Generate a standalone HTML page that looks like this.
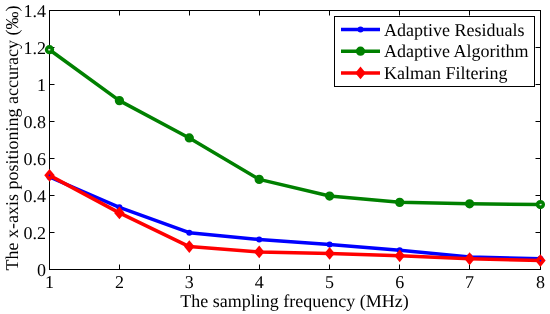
<!DOCTYPE html>
<html><head><meta charset="utf-8"><style>
html,body{margin:0;padding:0;background:#fff;}
svg{display:block;}
text{text-rendering:geometricPrecision;}
</style></head><body>
<svg width="550" height="314" viewBox="0 0 550 314">
<rect width="550" height="314" fill="#fff"/>
<path d="M49.5,269.5v-5M49.5,10.5v5M119.5,269.5v-5M119.5,10.5v5M189.5,269.5v-5M189.5,10.5v5M259.5,269.5v-5M259.5,10.5v5M329.5,269.5v-5M329.5,10.5v5M399.5,269.5v-5M399.5,10.5v5M469.5,269.5v-5M469.5,10.5v5M540.5,269.5v-5M540.5,10.5v5M49.5,269.5h5M540.5,269.5h-5M49.5,232.5h5M540.5,232.5h-5M49.5,195.5h5M540.5,195.5h-5M49.5,158.5h5M540.5,158.5h-5M49.5,121.5h5M540.5,121.5h-5M49.5,84.5h5M540.5,84.5h-5M49.5,47.5h5M540.5,47.5h-5M49.5,10.5h5M540.5,10.5h-5" stroke="#000" stroke-width="1" fill="none"/>
<rect x="49.5" y="10.5" width="491.0" height="259.0" fill="none" stroke="#000" stroke-width="1"/>
<polyline points="49.50,177.00 119.40,207.34 189.30,232.69 259.20,239.53 329.60,244.53 399.70,250.26 469.60,256.92 540.40,258.77" fill="none" stroke="#0000ff" stroke-width="3.5" stroke-linejoin="round"/>
<circle cx="49.50" cy="177.00" r="3" fill="#0000ff"/>
<circle cx="119.40" cy="207.34" r="3" fill="#0000ff"/>
<circle cx="189.30" cy="232.69" r="3" fill="#0000ff"/>
<circle cx="259.20" cy="239.53" r="3" fill="#0000ff"/>
<circle cx="329.60" cy="244.53" r="3" fill="#0000ff"/>
<circle cx="399.70" cy="250.26" r="3" fill="#0000ff"/>
<circle cx="469.60" cy="256.92" r="3" fill="#0000ff"/>
<circle cx="540.40" cy="258.77" r="3" fill="#0000ff"/>
<polyline points="49.50,49.72 119.40,100.59 189.30,137.97 259.20,179.41 329.60,196.06 399.70,202.34 469.60,203.82 540.40,204.56" fill="none" stroke="#008000" stroke-width="3.5" stroke-linejoin="round"/>
<circle cx="49.50" cy="49.72" r="2.9" fill="none" stroke="#008000" stroke-width="3.5"/>
<circle cx="119.40" cy="100.59" r="2.9" fill="none" stroke="#008000" stroke-width="3.5"/>
<circle cx="189.30" cy="137.97" r="2.9" fill="none" stroke="#008000" stroke-width="3.5"/>
<circle cx="259.20" cy="179.41" r="2.9" fill="none" stroke="#008000" stroke-width="3.5"/>
<circle cx="329.60" cy="196.06" r="2.9" fill="none" stroke="#008000" stroke-width="3.5"/>
<circle cx="399.70" cy="202.34" r="2.9" fill="none" stroke="#008000" stroke-width="3.5"/>
<circle cx="469.60" cy="203.82" r="2.9" fill="none" stroke="#008000" stroke-width="3.5"/>
<circle cx="540.40" cy="204.56" r="2.9" fill="none" stroke="#008000" stroke-width="3.5"/>
<circle cx="49.50" cy="49.72" r="0.9" fill="#e8f0e8"/>
<circle cx="540.40" cy="204.56" r="0.9" fill="#e8f0e8"/>
<polyline points="49.50,175.34 119.40,212.89 189.30,246.56 259.20,251.93 329.60,253.41 399.70,255.81 469.60,258.77 540.40,260.62" fill="none" stroke="#ff0000" stroke-width="3.5" stroke-linejoin="round"/>
<polygon points="49.50,168.94 54.75,175.34 49.50,181.74 44.25,175.34" fill="#ff0000"/>
<polygon points="119.40,206.49 124.65,212.89 119.40,219.29 114.15,212.89" fill="#ff0000"/>
<polygon points="189.30,240.16 194.55,246.56 189.30,252.96 184.05,246.56" fill="#ff0000"/>
<polygon points="259.20,245.53 264.45,251.93 259.20,258.32 253.95,251.93" fill="#ff0000"/>
<polygon points="329.60,247.00 334.85,253.41 329.60,259.81 324.35,253.41" fill="#ff0000"/>
<polygon points="399.70,249.41 404.95,255.81 399.70,262.21 394.45,255.81" fill="#ff0000"/>
<polygon points="469.60,252.37 474.85,258.77 469.60,265.17 464.35,258.77" fill="#ff0000"/>
<polygon points="540.40,254.22 545.65,260.62 540.40,267.02 535.15,260.62" fill="#ff0000"/>
<circle cx="49.50" cy="175.34" r="0.9" fill="#0000ff"/>
<circle cx="540.40" cy="260.62" r="0.9" fill="#0000ff"/>
<text x="49.50" y="288" text-anchor="middle" font-family="Liberation Serif, serif" font-size="18">1</text>
<text x="119.40" y="288" text-anchor="middle" font-family="Liberation Serif, serif" font-size="18">2</text>
<text x="189.30" y="288" text-anchor="middle" font-family="Liberation Serif, serif" font-size="18">3</text>
<text x="259.20" y="288" text-anchor="middle" font-family="Liberation Serif, serif" font-size="18">4</text>
<text x="329.60" y="288" text-anchor="middle" font-family="Liberation Serif, serif" font-size="18">5</text>
<text x="399.70" y="288" text-anchor="middle" font-family="Liberation Serif, serif" font-size="18">6</text>
<text x="469.60" y="288" text-anchor="middle" font-family="Liberation Serif, serif" font-size="18">7</text>
<text x="540.40" y="288" text-anchor="middle" font-family="Liberation Serif, serif" font-size="18">8</text>
<text x="46" y="275.50" text-anchor="end" font-family="Liberation Serif, serif" font-size="18">0</text>
<text x="46" y="238.50" text-anchor="end" font-family="Liberation Serif, serif" font-size="18">0.2</text>
<text x="46" y="201.50" text-anchor="end" font-family="Liberation Serif, serif" font-size="18">0.4</text>
<text x="46" y="164.50" text-anchor="end" font-family="Liberation Serif, serif" font-size="18">0.6</text>
<text x="46" y="127.50" text-anchor="end" font-family="Liberation Serif, serif" font-size="18">0.8</text>
<text x="46" y="90.50" text-anchor="end" font-family="Liberation Serif, serif" font-size="18">1</text>
<text x="46" y="53.50" text-anchor="end" font-family="Liberation Serif, serif" font-size="18">1.2</text>
<text x="46" y="16.50" text-anchor="end" font-family="Liberation Serif, serif" font-size="18">1.4</text>
<text x="294.5" y="307.2" text-anchor="middle" font-family="Liberation Serif, serif" font-size="18">The sampling frequency (MHz)</text>
<text transform="translate(18,138) rotate(-90)" text-anchor="middle" font-family="Liberation Serif, serif" font-size="18">The x-axis positioning accuracy (‰)</text>
<rect x="334.5" y="16.5" width="200.0" height="70.0" fill="#fff" stroke="#000" stroke-width="1"/>
<line x1="341" y1="29.5" x2="380" y2="29.5" stroke="#0000ff" stroke-width="3.5"/>
<circle cx="360.50" cy="29.50" r="3" fill="#0000ff"/>
<text x="384" y="35.5" font-family="Liberation Serif, serif" font-size="18">Adaptive Residuals</text>
<line x1="341" y1="51.2" x2="380" y2="51.2" stroke="#008000" stroke-width="3.5"/>
<circle cx="360.50" cy="51.20" r="2.9" fill="none" stroke="#008000" stroke-width="3.5"/>
<text x="384" y="57.2" font-family="Liberation Serif, serif" font-size="18">Adaptive Algorithm</text>
<line x1="341" y1="72.9" x2="380" y2="72.9" stroke="#ff0000" stroke-width="3.5"/>
<polygon points="360.50,66.50 365.75,72.90 360.50,79.30 355.25,72.90" fill="#ff0000"/>
<text x="384" y="78.9" font-family="Liberation Serif, serif" font-size="18">Kalman Filtering</text>
</svg>
</body></html>
